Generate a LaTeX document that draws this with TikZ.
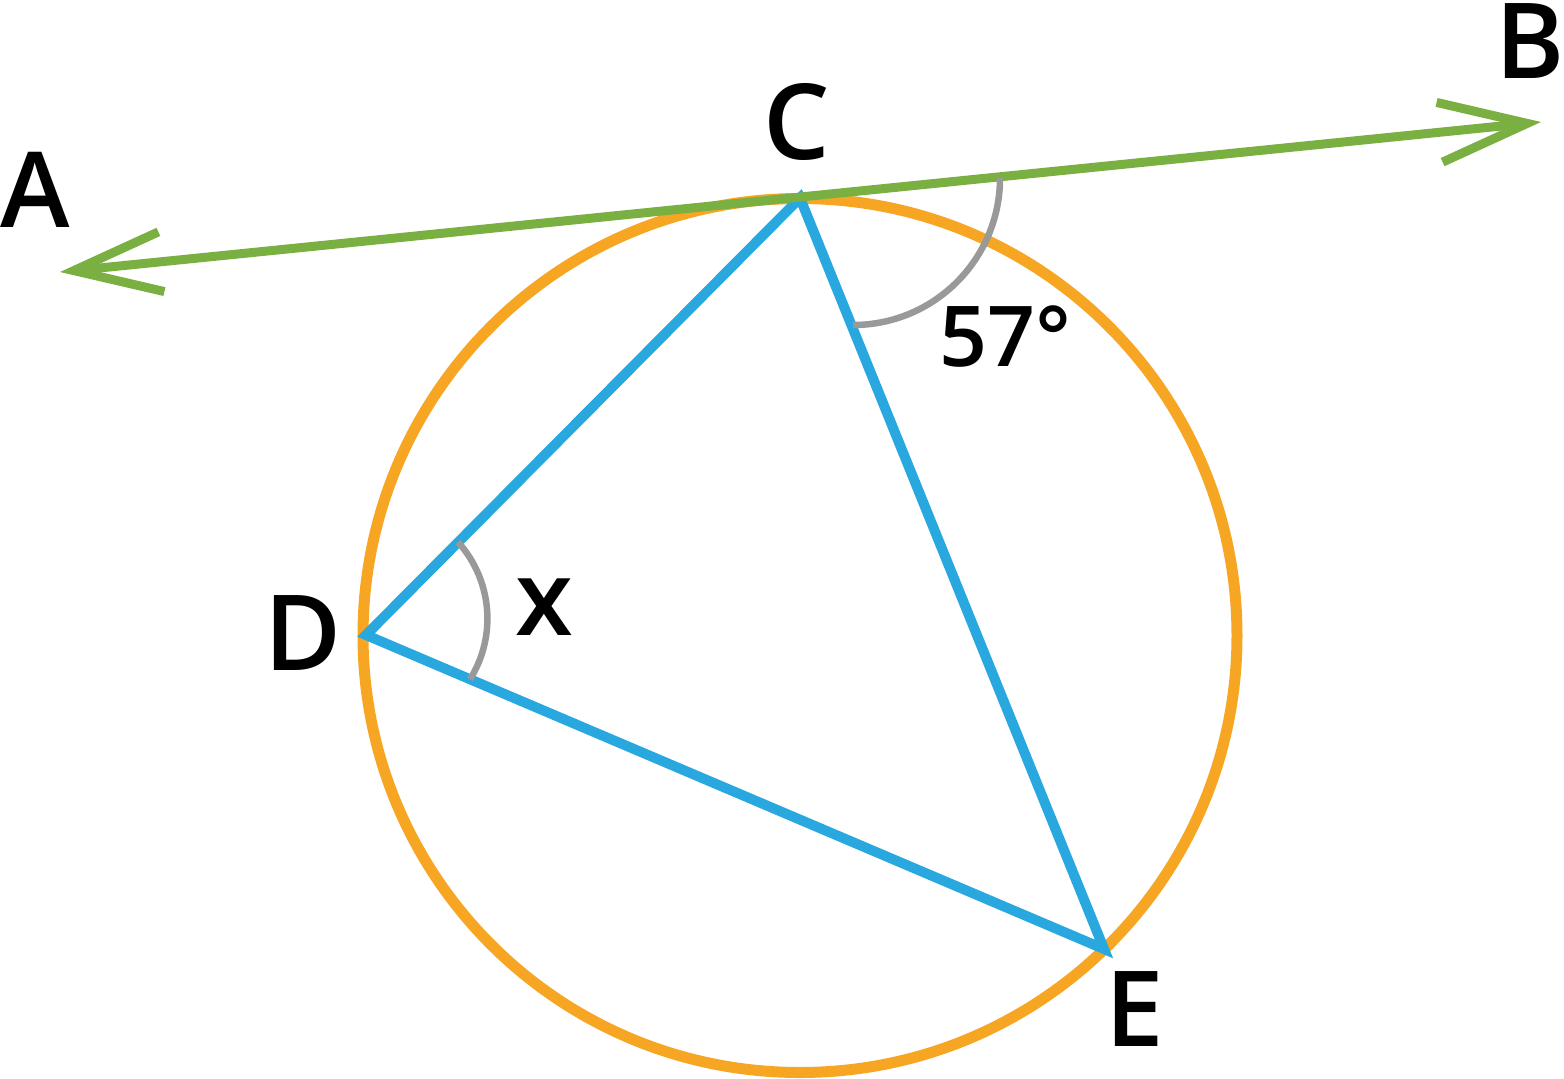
\documentclass[tikz,border=0pt]{standalone}
\usepackage{fontspec}
\IfFontExistsTF{Open Sans SemiBold}{%
  \setmainfont{Open Sans}[BoldFont={Open Sans SemiBold}]}{%
  \IfFontExistsTF{Open Sans Semibold}{%
    \setmainfont{Open Sans}[BoldFont={Open Sans Semibold}]}{%
    \setmainfont{Open Sans}}}
\usepackage{xcolor}
\usetikzlibrary{arrows.meta}
\definecolor{tangentgreen}{RGB}{122,175,66}
\definecolor{circleorange}{RGB}{246,166,35}
\definecolor{chordblue}{RGB}{41,168,224}
\definecolor{anglegray}{RGB}{153,153,153}

\begin{document}
\begin{tikzpicture}[
    x=1pt, y=-1pt,
    circ/.style={draw=circleorange, line width=11pt},
    chord/.style={draw=chordblue, line width=10pt, line join=miter},
    tangent/.style={draw=tangentgreen, line width=9pt,
        {Straight Barb[sharp, length=88pt, width=60pt]}-{Straight Barb[sharp, length=88pt, width=60pt]}},
    anglemark/.style={draw=anglegray, line width=6.5pt},
    lbl/.style={inner sep=0pt, anchor=base, font=\bfseries\fontsize{105}{105}\selectfont},
    deg/.style={inner sep=0pt, anchor=base, font=\bfseries\fontsize{84}{84}\selectfont},
]
    \useasboundingbox (0,0) rectangle (1564,1079);

    \coordinate (O) at (800,635.5);
    \coordinate (C) at (800,198);
    \coordinate (D) at (366,635);
    \coordinate (E) at (1104,949);
    \coordinate (Atip) at (60,272);
    \coordinate (Btip) at (1541,122);

    \draw[circ] (O) circle[radius=437];
    \draw[chord] (C) -- (D) -- (E) -- cycle;
    \draw[tangent] (Atip) -- (Btip);

    \coordinate (Cb) at (1000,178);
    \draw[anglemark] (Cb) arc[start angle=0, end angle=90, radius=147];
    \coordinate (Dc) at (458,542);
    \draw[anglemark] (Dc) arc[start angle=-42, end angle=32, radius=114.5];

    \node[lbl] (lA) at (35,227) {A};
    \node[lbl] (lB) at (1530,78) {B};
    \node[lbl] (lC) at (797,159) {C};
    \node[lbl] (lD) at (303,670) {D};
    \node[lbl] (lE) at (1135,1046) {E};
    \node[lbl] (lx) at (544,635) {x};
    \node[deg] (l57) at (1005,366) {57°};
\end{tikzpicture}
\end{document}
